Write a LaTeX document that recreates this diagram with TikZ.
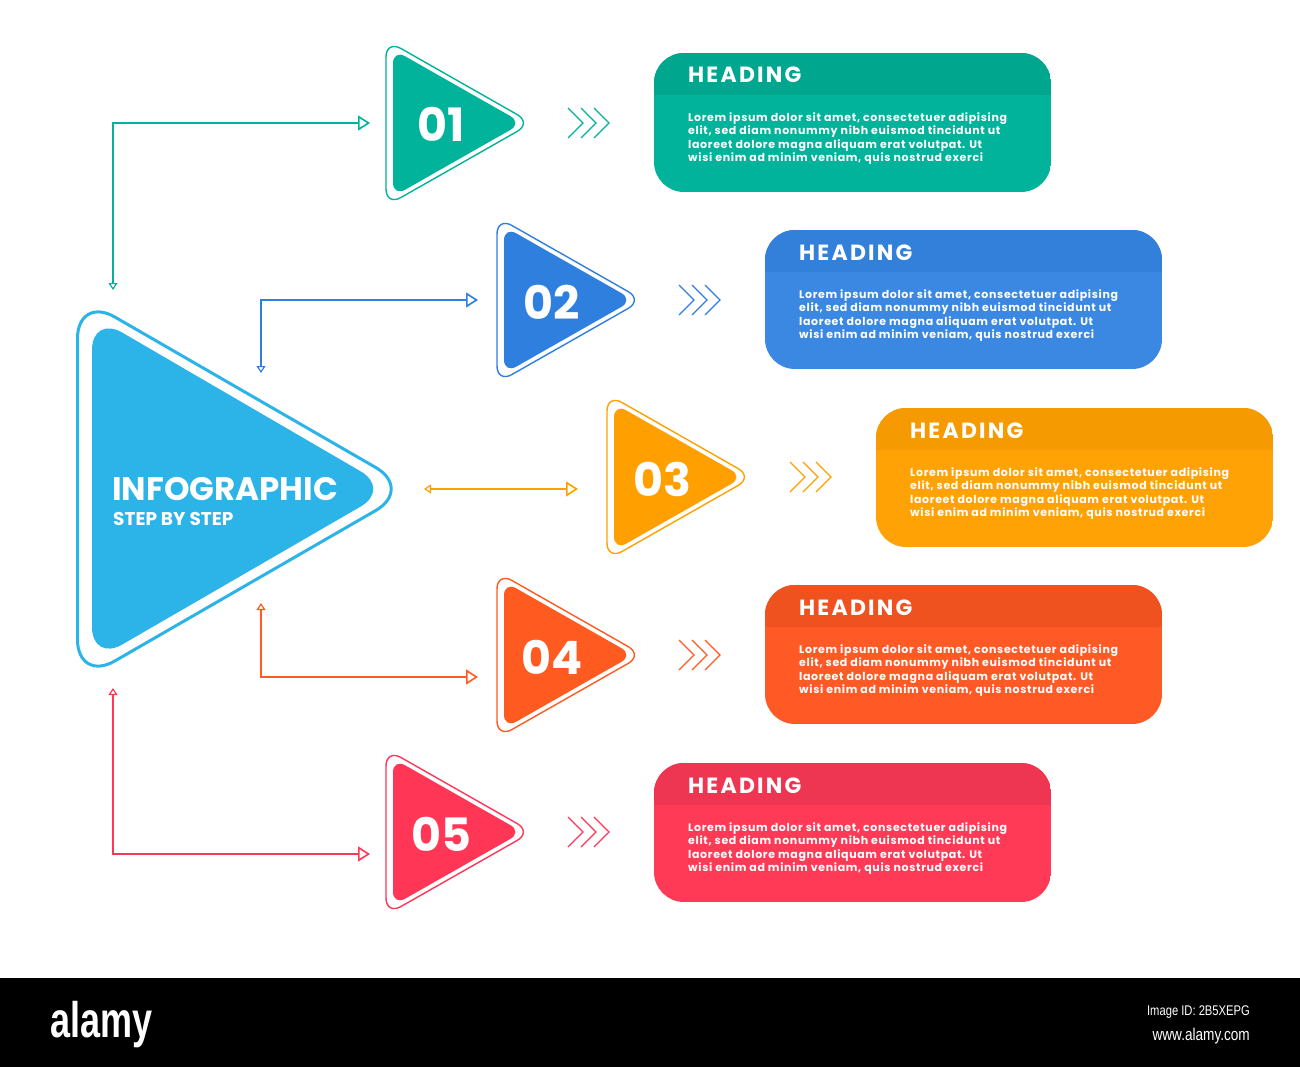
\documentclass[tikz,border=0pt]{standalone}
\usepackage{fontspec}
\usepackage{graphicx}
\setmainfont{Poppins}
\newfontfamily\wmfont{Liberation Sans}
\usetikzlibrary{arrows.meta}

\definecolor{cteal}{HTML}{00B39A}
\definecolor{cteald}{HTML}{00A68E}
\definecolor{cblue}{HTML}{2F7FDE}
\definecolor{cbluebody}{HTML}{3A88E2}
\definecolor{cblued}{HTML}{3380DA}
\definecolor{corange}{HTML}{FFA000}
\definecolor{corangebody}{HTML}{FFA206}
\definecolor{coranged}{HTML}{F59A00}
\definecolor{cred}{HTML}{FF5A1F}
\definecolor{credbody}{HTML}{FF5A26}
\definecolor{credd}{HTML}{F0521F}
\definecolor{cpink}{HTML}{FF3656}
\definecolor{cpinkbody}{HTML}{FF3A57}
\definecolor{cpinkd}{HTML}{EE3552}
\definecolor{cbig}{HTML}{2CB3E8}

\tikzset{
  conn/.style={line width=1.3pt},
  biarr/.style={conn, {Triangle[open,length=7pt,width=9pt,line width=1.2pt]}-{Triangle[open,length=12pt,width=15pt,line width=1.6pt]}},
  numlabel/.style={text=white, inner sep=0pt, font=\fontsize{46}{46}\selectfont\bfseries},
  headtext/.style={text=white, inner sep=0pt, font=\fontsize{22}{22}\selectfont\bfseries\addfontfeature{LetterSpace=10}},
  bodytext/.style={text=white, inner sep=0pt, align=left, font=\fontsize{11}{13.5}\selectfont\bfseries\addfontfeature{LetterSpace=6}},
}

\newcommand\smalltri[5]{%
  \draw[#4, line width=1.4pt, rounded corners=17pt] (#2,#3+77) -- (#2,#3+160) -- (#2+146,#3+77) -- (#2,#3-6) -- cycle;
  \fill[#4, rounded corners=14pt] (#2+7,#3+77) -- (#2+7,#3+150.6) -- (#2+136.5,#3+77) -- (#2+7,#3+3.4) -- cycle;
  \node[numlabel, anchor=base] (#1) at (#2+55,#3+96) {#5};
}
\newcommand\chevs[3]{%
  \foreach \i in {0,1,2} {\draw[#3, line width=1.1pt] (#1+13*\i,#2-15) -- (#1+13*\i+15,#2) -- (#1+13*\i,#2+15);}
}
\newcommand\infobox[5]{%
  \begin{scope}
    \clip[rounded corners=30pt] (#2,#3) rectangle (#2+397,#3+139);
    \fill[#4] (#2,#3) rectangle (#2+397,#3+139);
    \fill[#5] (#2,#3) rectangle (#2+397,#3+42);
  \end{scope}
  \node[headtext, anchor=base west] (#1h) at (#2+34,#3+30) {HEADING};
  \node[bodytext, anchor=north west] (#1b) at (#2+34,#3+59) {Lorem ipsum dolor sit amet, consectetuer adipising\\elit, sed diam nonummy nibh euismod tincidunt ut\\laoreet dolore magna aliquam erat volutpat. Ut\\wisi enim ad minim veniam, quis nostrud exerci};
}

\begin{document}
\begin{tikzpicture}[x=1pt,y=-1pt]
\useasboundingbox (0,0) rectangle (1300,1067);
\fill[white] (0,0) rectangle (1300,1067);

% big triangle
\draw[cbig, line width=3pt, rounded corners=43pt] (77.5,489) -- (77.5,682.5) -- (413,489) -- (77.5,295.5) -- cycle;
\fill[cbig, rounded corners=35pt] (92,489) -- (92,662) -- (391,489) -- (92,315) -- cycle;
\node[text=white, inner sep=0pt, anchor=base west, font=\fontsize{32.5}{32.5}\selectfont\bfseries] (title) at (112,500) {INFOGRAPHIC};
\node[text=white, inner sep=0pt, anchor=base west, font=\fontsize{18.5}{18.5}\selectfont\bfseries] (sub) at (113,525) {STEP BY STEP};

% small triangles
\smalltri{t1}{386}{46}{cteal}{01}
\smalltri{t2}{497}{223}{cblue}{02}
\smalltri{t3}{607}{400}{corange}{03}
\smalltri{t4}{497}{578}{cred}{04}
\smalltri{t5}{386}{755}{cpink}{05}

% chevrons
\chevs{568}{123}{cteal}
\chevs{679}{300}{cblue}
\chevs{790}{477}{corange}
\chevs{679}{655}{cred}
\chevs{568}{832}{cpink}

% boxes
\infobox{b1}{654}{53}{cteal}{cteald}
\infobox{b2}{765}{230}{cbluebody}{cblued}
\infobox{b3}{876}{408}{corangebody}{coranged}
\infobox{b4}{765}{585}{credbody}{credd}
\infobox{b5}{654}{763}{cpinkbody}{cpinkd}

% connectors
\coordinate (c1a) at (113,290); \coordinate (c1b) at (370,123);
\coordinate (c2a) at (261,373); \coordinate (c2b) at (478,300);
\coordinate (c3a) at (424,489); \coordinate (c3b) at (578,489);
\coordinate (c4a) at (261,603); \coordinate (c4b) at (478,677);
\coordinate (c5a) at (113,688); \coordinate (c5b) at (370,854);
\draw[biarr, cteal] (c1a) |- (c1b);
\draw[biarr, cblue] (c2a) |- (c2b);
\draw[biarr, corange] (c3a) -- (c3b);
\draw[biarr, cred] (c4a) |- (c4b);
\draw[biarr, cpink] (c5a) |- (c5b);

% bottom band
\fill[black] (0,978) rectangle (1300,1067);
\node[text=white, inner sep=0pt, anchor=base west, font=\wmfont\fontsize{50}{50}\selectfont\bfseries] (wm) at (50,1037) {\scalebox{0.72}[1]{alamy}};
\node[text=white, inner sep=0pt, anchor=base east, font=\wmfont\fontsize{14}{14}\selectfont] (wmid) at (1250,1015) {\scalebox{0.8}[1]{Image ID: 2B5XEPG}};
\node[text=white, inner sep=0pt, anchor=base east, font=\wmfont\fontsize{17}{17}\selectfont] (wmurl) at (1250,1040) {\scalebox{0.8}[1]{www.alamy.com}};
\end{tikzpicture}
\end{document}
